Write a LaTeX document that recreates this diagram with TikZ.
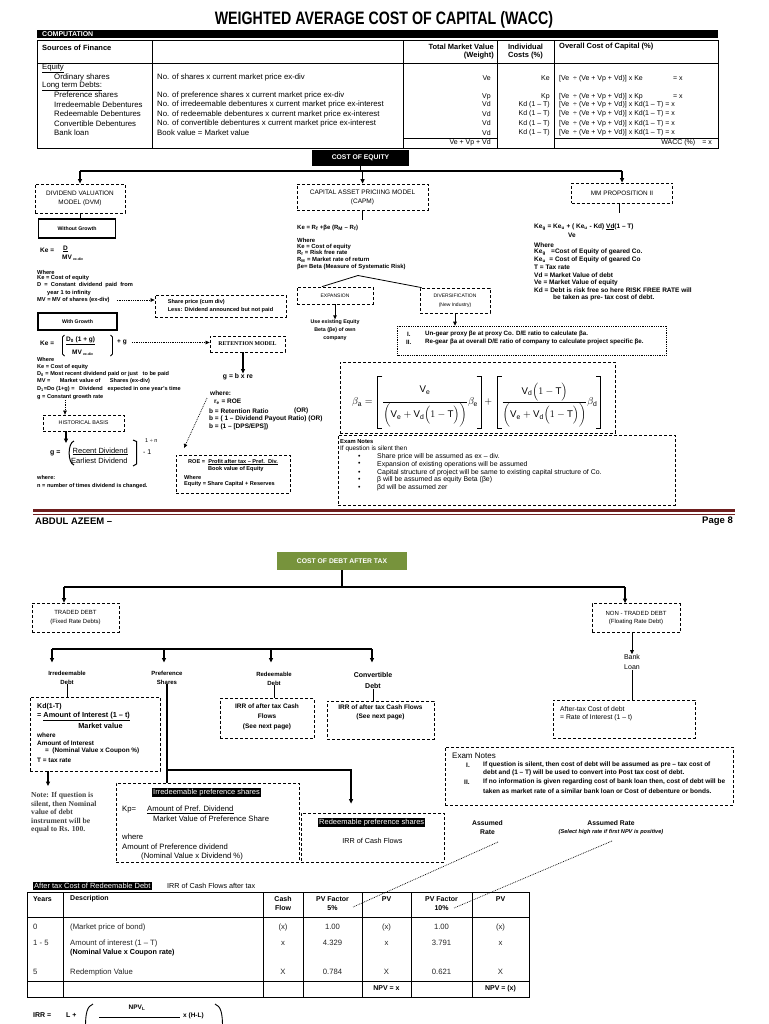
\documentclass[tikz,border=0pt]{standalone}
\usepackage{fontspec}
\setmainfont{Liberation Sans}
\newfontfamily\serifb{Liberation Serif}
\usepackage{amsmath}
\usetikzlibrary{arrows.meta}
\definecolor{dgreen}{HTML}{77933C}
\definecolor{dred}{HTML}{6E1E1E}
\newcommand{\fsz}[1]{\fontsize{#1}{#1}\selectfont}
\newcommand{\fsl}[2]{\fontsize{#1}{#2}\selectfont}
\tikzset{
  tx/.style={anchor=west,inner sep=0pt},
  tc/.style={inner sep=0pt},
  te/.style={anchor=east,inner sep=0pt},
  mth/.style={anchor=base west,inner sep=0pt,font=\fsz{9.7}},
  brk/.style={line width=0.8pt},
  dbox/.style={draw,dash pattern=on 3pt off 2pt,line width=0.75pt,inner sep=0pt},
  dotbox/.style={draw,dash pattern=on 0.8pt off 1pt,line width=0.7pt,inner sep=0pt},
  tbox/.style={draw,line width=1.6pt,inner sep=0pt},
  conn/.style={line width=1.3pt},
  cthin/.style={line width=0.8pt},
  arr/.style={line width=1.2pt,-{Triangle[length=4.5pt,width=4pt]}},
  arrs/.style={line width=0.9pt,-{Triangle[length=4pt,width=3.6pt]}},
  darr/.style={line width=0.7pt,dash pattern=on 0.8pt off 1pt,-{Triangle[length=4pt,width=3.5pt]}},
  dline/.style={line width=0.7pt,dash pattern=on 0.8pt off 1pt},
  hl/.style={anchor=west,fill=black,text=white,inner xsep=1pt,inner ysep=1pt},
}
\begin{document}
\begin{tikzpicture}[x=1pt,y=-1pt]
\useasboundingbox (0,0) rectangle (768,1024);
\fill[white] (0,0) rectangle (768,1024);

% ---------------- title and WACC table
\node[tc,font=\bfseries\fsz{18}] (title) at (384,20) {\scalebox{0.79}[1]{WEIGHTED AVERAGE COST OF CAPITAL (WACC)}};
\fill (37,30) rectangle (718,38.5);
\node[tx,text=white,font=\bfseries\fsz{7}] (comp) at (42,34.4) {COMPUTATION};
\draw[line width=0.7pt] (37,40.5) rectangle (718,148);
\draw[line width=0.7pt] (37,63) -- (718,63);
\foreach \x in {152,403,497,554} \draw[line width=0.7pt] (\x,40.5) -- (\x,148);
\draw[line width=0.7pt] (403,138) -- (497,138) (554,138) -- (718,138);

\begin{scope}[every node/.style={font=\bfseries\fsz{7.5}}]
\node[tx] (hsrc) at (42,48) {Sources of Finance};
\node[te] (htmv) at (494,47) {Total Market Value};
\node[te] (hwt) at (494,56) {(Weight)};
\node[tc] (hind) at (525.5,47) {Individual};
\node[tc] (hcst) at (525.5,56) {Costs (\%)};
\node[tx] (hocc) at (559,47) {Overall Cost of Capital (\%)};
\end{scope}

\begin{scope}[every node/.style={font=\fsz{7.8}}]
\node[tx] (r0) at (42,68.5) {\underline{Equity}};
\node[tx] (r1) at (54,77.3) {Ordinary shares};
\node[tx] (r2) at (42,86) {\underline{Long term Debts:}};
\node[tx] (r3) at (54,95) {Preference shares};
\node[tx] (r4) at (54,104.3) {Irredeemable Debentures};
\node[tx] (r5) at (54,114) {Redeemable Debentures};
\node[tx] (r6) at (54,123.3) {Convertible Debentures};
\node[tx] (r7) at (54,132.7) {Bank loan};
\node[tx] (d1) at (157,77.3) {No. of shares x current market price ex-div};
\node[tx] (d3) at (157,95) {No. of preference shares x current market price ex-div};
\node[tx] (d4) at (157,104.3) {No. of irredeemable debentures x current market price ex-interest};
\node[tx] (d5) at (157,114) {No. of redeemable debentures x current market price ex-interest};
\node[tx] (d6) at (157,123.3) {No. of convertible debentures x current market price ex-interest};
\node[tx] (d7) at (157,132.7) {Book value = Market value};
\end{scope}

\begin{scope}[every node/.style={font=\fsz{7}}]
\node[te] (v1) at (491,78.5) {Ve};
\node[te] (v3) at (491,96.5) {Vp};
\node[te] (v4) at (491,104.3) {Vd};
\node[te] (v5) at (491,114) {Vd};
\node[te] (v6) at (491,123.3) {Vd};
\node[te] (v7) at (491,132.7) {Vd};
\node[te] (k1) at (550,78.5) {Ke};
\node[te] (k3) at (550,96.5) {Kp};
\node[te] (k4) at (550,104.3) {Kd (1 – T)};
\node[te] (k5) at (550,114) {Kd (1 – T)};
\node[te] (k6) at (550,123.3) {Kd (1 – T)};
\node[te] (k7) at (550,132.7) {Kd (1 – T)};
\node[tx] (f1) at (559,78.5) {[Ve\ \ ÷ (Ve + Vp + Vd)] x Ke};
\node[tx] (f1x) at (673,78.5) {= x};
\node[tx] (f3) at (559,96.5) {[Ve\ \ ÷ (Ve + Vp + Vd)] x Kp};
\node[tx] (f3x) at (673,96.5) {= x};
\node[tx] (f4) at (559,104.3) {[Ve\ \ ÷ (Ve + Vp + Vd)] x Kd(1 – T) = x};
\node[tx] (f5) at (559,114) {[Ve\ \ ÷ (Ve + Vp + Vd)] x Kd(1 – T) = x};
\node[tx] (f6) at (559,123.3) {[Ve\ \ ÷ (Ve + Vp + Vd)] x Kd(1 – T) = x};
\node[tx] (f7) at (559,132.7) {[Ve\ \ ÷ (Ve + Vp + Vd)] x Kd(1 – T) = x};
\node[te] (vsum) at (491,143) {Ve + Vp + Vd};
\node[te] (wacc) at (712,143) {WACC (\%)\quad = x};
\end{scope}

% ---------------- cost of equity
\node[fill=black,text=white,font=\bfseries\fsz{6.8},minimum width=97pt,minimum height=16pt,inner sep=0pt] (coe) at (360.5,158) {COST OF EQUITY};
\node[dbox,minimum width=90pt,minimum height=29pt,align=center,font=\fsl{6.4}{9.5}] (dvm) at (80,198.5) {DIVIDEND VALUATION\\MODEL (DVM)};
\node[dbox,minimum width=131pt,minimum height=26pt,align=center,font=\fsl{6.5}{9}] (capm) at (362.5,197) {CAPITAL ASSET PRICIING MODEL\\(CAPM)};
\node[dbox,minimum width=101pt,minimum height=20pt,font=\fsz{6.4}] (mm) at (622,193) {MM PROPOSITION II};
\coordinate (j1) at (360.5,171);
\coordinate (jl) at (80,171);
\coordinate (jr) at (622,171);
\draw[conn] (coe.south) -- (j1);
\draw[conn] (jl) -- (jr);
\draw[arr] (jl) -- (dvm.north);
\draw[arr] (capm.north |- jl) -- (capm.north);
\draw[arr] (jr) -- (mm.north);

% DVM
\node[tbox,minimum width=77pt,minimum height=19pt,font=\bfseries\fsz{5.2}] (wog) at (77,228.5) {Without Growth};
\draw[cthin] (dvm.south) -- (dvm.south |- wog.north);
\node[tx,font=\bfseries\fsz{6.5}] (ke1) at (40,250) {Ke =};
\node[tx,font=\bfseries\fsz{6.5}] (ke1n) at (63,249) {\underline{D}};
\node[tx,font=\bfseries\fsz{6.5}] (ke1d) at (62,258) {MV\,\raisebox{-1pt}{\fsz{3.5}ex-div}};
\begin{scope}[every node/.style={font=\bfseries\fsz{5.7}}]
\node[tx] (w1a) at (37,272) {Where};
\node[tx] (w1b) at (37,278) {Ke = Cost of equity};
\node[tx] (w1c) at (37,285.3) {D \ = \ Constant \ dividend \ paid \ from};
\node[tx] (w1d) at (47,292.7) {year 1 to infinity};
\node[tx] (mvsh) at (37,300) {MV = MV of shares (ex-div)};
\end{scope}
\node[dbox,minimum width=131pt,minimum height=22pt,align=left,font=\bfseries\fsl{5.6}{7.6}] (shp) at (220.5,306) {Share price (cum div)\\Less: Dividend announced but not paid};
\draw[darr] ([xshift=7pt]mvsh.east) -- (shp.west |- mvsh.east);

\node[tbox,minimum width=79pt,minimum height=17pt,font=\bfseries\fsz{5.2}] (wg) at (77.5,321.5) {With Growth};
\node[tx,font=\bfseries\fsz{6.5}] (ke2) at (40,343) {Ke =};
\node[tx,font=\bfseries\fsz{6.5}] (ke2n) at (66,341) {\underline{D\textsubscript{0} (1 + g)}};
\node[tx,font=\bfseries\fsz{6.5}] (ke2d) at (72,353) {MV\,\raisebox{-1pt}{\fsz{3.5}ex-div}};
\draw[cthin] (64.5,335) -- (62.5,337) -- (62.5,354) -- (64.5,356);
\draw[cthin] (110.5,335) -- (112.5,337) -- (112.5,354) -- (110.5,356);
\node[tx,font=\bfseries\fsz{6.5}] (pg) at (117,342.5) {+ g};
\node[dbox,minimum width=75pt,minimum height=16pt,font=\serifb\bfseries\fsz{5.8}] (ret) at (247.5,344) {RETENTION MODEL};
\draw[darr] ([xshift=5pt]pg.east) -- (ret.west |- pg.east);

\begin{scope}[every node/.style={font=\bfseries\fsz{5.6}}]
\node[tx] (w2a) at (37,359) {Where};
\node[tx] (w2b) at (37,366.7) {Ke = Cost of equity};
\node[tx] (w2c) at (37,374) {D\textsubscript{0} = Most recent dividend paid or just\ \ \ to be paid};
\node[tx] (w2d) at (37,381.3) {MV = \ \ \ \ \ Market value of \ \ \ \ \ Shares (ex-div)};
\node[tx] (w2e) at (37,389) {D\textsubscript{1}=Do (1+g) = \ \ Dividend \ \ expected in one year's time};
\node[tx] (w2f) at (37,396.7) {g = Constant growth rate};
\end{scope}
\coordinate (hs) at (65,400);
\node[dbox,minimum width=81pt,minimum height=16pt,font=\fsz{5.4}] (hist) at (83.5,423) {HISTORICAL BASIS};
\draw[darr] (hs) -- (hs |- hist.north);
\coordinate (gs) at (66,443);
\draw[arr] (hist.south -| gs) -- (gs);
\node[tx,font=\bfseries\fsz{7}] (geq) at (50,453) {g =};
\draw[line width=1pt] (74,441) .. controls (67.5,443) and (67.5,463) .. (74,465);
\node[tx,font=\fsz{7.5}] (grec) at (72.5,451.5) {\underline{Recent Dividend}};
\node[tx,font=\fsz{7.5}] (gear1) at (71,461) {Earliest Dividend};
\draw[line width=1pt] (133,440) -- (136.5,441.5) -- (136.5,464) -- (133,466);
\node[tx,font=\fsz{5.5}] (gexp) at (145,441) {1 ÷ n};
\node[tx,font=\fsz{7}] (gm1) at (143,452) {- 1};
\node[tx,font=\bfseries\fsz{5.6}] (nw) at (37,477) {where:};
\node[tx,font=\bfseries\fsz{5.6}] (nn) at (37,486) {n = number of times dividend is changed.};

\node[tc,font=\bfseries\fsz{6.8}] (gbx) at (238,377) {g = b x re};
\draw[arr] ([xshift=-4.5pt]ret.south) -- ([xshift=-4.5pt]ret.south |- gbx.north);
\begin{scope}[every node/.style={font=\bfseries\fsz{6.5}}]
\node[tx] (w3a) at (210,393) {where:};
\node[tx] (w3b) at (214,402) {r\textsubscript{e} = ROE};
\node[tx] (w3c) at (209,410.7) {b = Retention Ratio};
\node[tx] (w3o) at (294,410.7) {(OR)};
\node[tx] (w3d) at (209,419) {b = ( 1 – Dividend Payout Ratio)\ (OR)};
\node[tx] (w3e) at (209,427.3) {b = (1 – [DPS/EPS])};
\end{scope}
\coordinate (rs) at (207,398);
\coordinate (re) at (184,448);
\draw[darr] (rs) -- (re);
\node[dbox,minimum width=114pt,minimum height=38pt] (roe) at (233,474) {};
\begin{scope}[every node/.style={font=\bfseries\fsz{5.6}}]
\node[tx] (roe1) at (188,462) {ROE = \ \underline{Profit after tax – Pref.\ \ Div.}};
\node[tx] (roe2) at (208,469.5) {Book value of Equity};
\node[tx] (roe3) at (184,477) {Where};
\node[tx] (roe4) at (184,484.5) {Equity = Share Capital + Reserves};
\end{scope}

% CAPM
\coordinate (cs) at (362.5,220);
\draw[cthin] (capm.south) -- (cs);
\node[tx,font=\bfseries\fsz{6}] (kcapm) at (297,228) {Ke = R\textsubscript{f} +βe (R\textsubscript{M} – R\textsubscript{f})};
\begin{scope}[every node/.style={font=\bfseries\fsz{5.9}}]
\node[tx] (c1) at (297,240) {Where};
\node[tx] (c2) at (297,246.7) {Ke = Cost of equity};
\node[tx] (c3) at (297,253.3) {R\textsubscript{f} = Risk free rate};
\node[tx] (c4) at (297,260) {R\textsubscript{M} = Market rate of return};
\node[tx] (c5) at (297,266.7) {βe= Beta (Measure of Systematic Risk)};
\end{scope}
\coordinate (ap) at (358,275.5);
\node[dbox,minimum width=76pt,minimum height=17pt,font=\fsz{5}] (exp) at (335,295.5) {EXPANSION};
\node[dbox,minimum width=70pt,minimum height=25pt,align=center,font=\fsl{5}{9}] (div) at (455,300.5) {DIVERSIFICATION\\(New Industry)};
\draw[cthin] (ap) -- ([xshift=-13pt]exp.north);
\draw[cthin] (ap) -- ([xshift=2pt]div.north west);
\node[tc,align=center,font=\bfseries\fsl{5.3}{8}] (use) at (335,330) {Use existing Equity\\Beta (βe) of own\\company};
\draw[arrs] (exp.south) -- (use.north);
\node[dotbox,minimum width=269pt,minimum height=29pt] (gear) at (532,340.5) {};
\draw[arrs] (div.south) -- (div.south |- gear.north);
\begin{scope}[every node/.style={font=\bfseries\fsz{6.2}}]
\node[tx] (g1n) at (407,334.4) {I.};
\node[tx] (g1) at (425,334.4) {Un-gear proxy βe at proxy Co. D/E ratio to calculate βa.};
\node[tx] (g2n) at (406,342.4) {II.};
\node[tx] (g2) at (425,342.4) {Re-gear βa at overall D/E ratio of company to calculate project specific βe.};
\end{scope}

% beta formula
\node[dbox,minimum width=275pt,minimum height=71pt] (bbox) at (477.5,397.5) {};
\coordinate (yt) at (0,376);
\coordinate (yb) at (0,428);
\node[mth] (ba) at (352,404.5) {$\beta_{\mathrm{a}}=$};
\node[mth] (fr1) at ([xshift=9pt]ba.base east) {$\displaystyle\frac{\mathrm{V_e}\rule[-8pt]{0pt}{0pt}}{\biggl(\mathrm{V_e}+\mathrm{V_d}\Bigl(1-\mathrm{T}\Bigr)\biggr)}\beta_{\mathrm{e}}$};
\coordinate (lb1) at ([xshift=-4pt]fr1.west);
\coordinate (rb1) at ([xshift=3pt]fr1.east);
\draw[brk] (lb1 |- yt) ++(4.5,0) -- ++(-4.5,0) -- (lb1 |- yb) -- ++(4.5,0);
\draw[brk] (rb1 |- yt) ++(-4.5,0) -- ++(4.5,0) -- (rb1 |- yb) -- ++(-4.5,0);
\node[mth] (pl) at ([xshift=6pt]fr1.base east) {$+$};
\node[mth] (fr2) at ([xshift=9pt]pl.base east) {$\displaystyle\frac{\mathrm{V_d}\Bigl(1-\mathrm{T}\Bigr)\rule[-4pt]{0pt}{0pt}}{\biggl(\mathrm{V_e}+\mathrm{V_d}\Bigl(1-\mathrm{T}\Bigr)\biggr)}\beta_{\mathrm{d}}$};
\coordinate (lb2) at ([xshift=-4pt]fr2.west);
\coordinate (rb2) at ([xshift=3pt]fr2.east);
\draw[brk] (lb2 |- yt) ++(4.5,0) -- ++(-4.5,0) -- (lb2 |- yb) -- ++(4.5,0);
\draw[brk] (rb2 |- yt) ++(-4.5,0) -- ++(4.5,0) -- (rb2 |- yb) -- ++(-4.5,0);

\node[dbox,minimum width=337pt,minimum height=70pt] (ex1) at (506.5,470) {};
\node[tx,font=\bfseries\fsz{5.8}] (ex1h) at (340,441.8) {Exam Notes};
\begin{scope}[every node/.style={font=\fsz{6.9}}]
\node[tx,font=\fsz{6.4}] (ex1a) at (340,449.3) {If question is silent then};
\node[tx] (b1) at (358,456.5) {•};
\node[tx] (e1) at (377,456.5) {Share price will be assumed as ex – div.};
\node[tx] (b2) at (358,464.3) {•};
\node[tx] (e2) at (377,464.3) {Expansion of existing operations will be assumed};
\node[tx] (b3) at (358,472.5) {•};
\node[tx] (e3) at (377,472.5) {Capital structure of project will be same to existing capital structure of Co.};
\node[tx] (b4) at (358,480.2) {•};
\node[tx] (e4) at (377,480.2) {β will be assumed as equity Beta (βe)};
\node[tx] (b5) at (358,487.8) {•};
\node[tx] (e5) at (377,487.8) {βd will be assumed zer};
\end{scope}

% MM
\coordinate (ms) at (619,213);
\draw[cthin] (mm.south -| ms) -- (ms);
\begin{scope}[every node/.style={font=\bfseries\fsz{6.5}}]
\node[tx] (m0) at (534,227) {Ke\textsubscript{g} = Ke\textsubscript{u} + ( Ke\textsubscript{u} - Kd) \underline{Vd}(1 – T)};
\node[tx] (m0d) at (568,235) {Ve};
\node[tx] (m1) at (534,245) {Where};
\node[tx] (m2) at (534,252.5) {Ke\textsubscript{g}\ \ \ =Cost of Equity of geared Co.};
\node[tx] (m3) at (534,260) {Ke\textsubscript{u}\ \ = Cost of Equity of geared Co};
\node[tx] (m4) at (534,267.7) {T = Tax rate};
\node[tx] (m5) at (534,275.3) {Vd = Market Value of debt};
\node[tx] (m6) at (534,282.7) {Ve = Market Value of equity};
\node[tx] (m7) at (534,290.3) {Kd = Debt is risk free so here RISK FREE RATE will};
\node[tx] (m8) at (553,297.7) {be taken as pre- tax cost of debt.};
\end{scope}

% footer
\draw[dred,line width=2.2pt] (33,510.5) -- (735,510.5);
\draw[dred,line width=0.6pt] (33,513.8) -- (735,513.8);
\node[tx,font=\bfseries\fsz{9.5}] (auth) at (35,521.5) {ABDUL AZEEM –};
\node[te,font=\bfseries\fsz{9.5}] (page) at (733,521.5) {Page 8};

% ---------------- cost of debt
\node[fill=dgreen,text=white,font=\bfseries\fsz{6.8},minimum width=130pt,minimum height=18pt,inner sep=0pt] (cod) at (342,561) {COST OF DEBT AFTER TAX};
\coordinate (dj) at (342,587);
\coordinate (dl) at (64,587);
\coordinate (dr) at (625,587);
\draw[conn] (cod.south) -- (dj);
\draw[conn] (dl) -- (dr);
\node[dbox,minimum width=87pt,minimum height=29pt,align=center,font=\fsl{6}{8.5}] (trd) at (75.5,617.5) {TRADED DEBT\\(Fixed Rate Debts)};
\node[dbox,minimum width=88pt,minimum height=29pt,align=center,font=\fsl{6}{8.5}] (ntrd) at (636,618) {NON - TRADED DEBT\\(Floating Rate Debt)};
\draw[arr] (dl) -- (dl |- trd.north);
\draw[arr] (dr) -- (dr |- ntrd.north);
\node[tc,align=center,font=\fsl{7}{10}] (bank) at (632,662) {Bank\\Loan};
\draw[arrs] (ntrd.south -| bank.north) -- (bank.north);
\node[dbox,minimum width=142pt,minimum height=38pt] (atx) at (624,719) {};
\draw[cthin] (bank.south) -- (bank.south |- atx.north);
\node[tx,font=\fsz{6.8}] (atx1) at (560,709) {After-tax Cost of debt};
\node[tx,font=\fsz{6.8}] (atx2) at (560,718) {= Rate of Interest (1 – t)};

\node[dbox,minimum width=288pt,minimum height=58pt] (ex2) at (589,776) {};
\node[tx,font=\fsz{8}] (ex2h) at (452,756) {Exam Notes};
\begin{scope}[every node/.style={font=\bfseries\fsz{6.5}}]
\node[tx] (x1n) at (466,765) {I.};
\node[tx] (x1a) at (483,765) {If question is silent, then cost of debt will be assumed as pre – tax cost of};
\node[tx] (x1b) at (483,773.3) {debt and (1 – T) will be used to convert into Post tax cost of debt.};
\node[tx] (x2n) at (464,782) {II.};
\node[tx] (x2a) at (483,782) {If no information is given regarding cost of bank loan then, cost of debt will be};
\node[tx] (x2b) at (483,790.7) {taken as market rate of a similar bank loan or Cost of debenture or bonds.};
\end{scope}

\coordinate (bl) at (52,649);
\coordinate (b2) at (164,649);
\coordinate (b3) at (271,649);
\coordinate (br) at (372,649);
\draw[conn] (bl) -- (br);
\draw[arr] (bl) -- ++(0,13.5);
\draw[arr] (b2) -- ++(0,13.5);
\draw[arr] (b3) -- ++(0,13.5);
\draw[arr] (br) -- ++(0,13.5);
\node[tc,align=center,font=\bfseries\fsl{6}{9}] (irl) at (67,677.5) {Irredeemable\\Debt};
\node[tc,align=center,font=\bfseries\fsl{6}{9}] (prl) at (167,677.5) {Preference\\Shares};
\node[tc,align=center,font=\bfseries\fsl{6}{9}] (rdl) at (274,678.5) {Redeemable\\Debt};
\node[tc,align=center,font=\bfseries\fsl{7}{10.5}] (cvl) at (373,680.5) {Convertible\\Debt};

\node[dbox,minimum width=130pt,minimum height=74pt] (irb) at (95,734) {};
\draw[cthin] (irl.south) -- (irl.south |- irb.north);
\node[tx,font=\bfseries\fsz{7}] (i1) at (37,706.7) {Kd(1-T)};
\node[tx,font=\bfseries\fsz{7.3}] (i2) at (37,716) {= \underline{Amount of Interest (1 – t)}};
\node[tc,font=\bfseries\fsz{7.3}] (i3) at (100.5,726) {Market value};
\begin{scope}[every node/.style={font=\bfseries\fsz{6.4}}]
\node[tx] (i4) at (37,735) {where};
\node[tx] (i5) at (37,743.3) {Amount of Interest};
\node[tx] (i6) at (45,751) {= \ (Nominal Value x Coupon \%)};
\node[tx] (i7) at (37,760) {T = tax rate};
\end{scope}
\node[anchor=north west,inner sep=0pt,align=left,font=\serifb\bfseries\fsl{7.6}{8.6},text=black!75] (note) at (31,792) {Note: If question is\\silent, then Nominal\\value of debt\\instrument will be\\equal to Rs. 100.};
\draw[arr,shorten >=6pt] ([xshift=-47pt]irb.south) -- ([xshift=-47pt]irb.south |- note.north);

\node[dbox,minimum width=94pt,minimum height=40pt] (rdb) at (267,718.5) {};
\node[tc,align=center,font=\bfseries\fsl{6.5}{9.8}] (rdt) at (267,717) {IRR of after tax Cash\\Flows\\(See next page)};
\draw[cthin] (rdl.south) -- (rdl.south |- rdb.north);
\node[dbox,minimum width=107pt,minimum height=38pt] (cvb) at (380.5,720) {};
\node[tc,align=center,font=\bfseries\fsl{6.5}{9.3}] (cvt) at (380.5,712.5) {IRR of after tax Cash Flows\\(See next page)};
\draw[cthin] (cvl.south) -- (cvl.south |- cvb.north);

\node[dbox,minimum width=183pt,minimum height=79pt] (ipb) at (207.5,822.5) {};
\node[dbox,minimum width=143pt,minimum height=49pt] (rpb) at (372.5,837.5) {};
\draw[conn] (prl.south) -- (prl.south |- ipb.north);
\coordinate (pj) at (167,770);
\draw[arr,shorten >=9pt] (pj) -| ([xshift=-21.5pt]rpb.north);
\node[hl,font=\fsz{7.5}] (ipl) at (152,792.5) {Irredeemable preference shares};
\begin{scope}[every node/.style={font=\fsz{7.7}}]
\node[tx] (p1) at (122,810) {Kp=};
\node[tx] (p2) at (147,810) {\underline{Amount of Pref. Dividend}};
\node[tx] (p3) at (153,819) {Market Value of Preference Share};
\node[tx] (p4) at (122,837) {where};
\node[tx] (p5) at (122,846.5) {Amount of Preference dividend};
\node[tx] (p6) at (141,856) {(Nominal Value x Dividend \%)};
\end{scope}
\node[hl,font=\fsz{7.5}] (rpl) at (318,822.5) {Redeemable preference shares};
\node[tc,font=\fsz{7.2}] (rpt) at (372.5,841) {IRR of Cash Flows};

\node[tc,align=center,font=\bfseries\fsl{6.8}{9}] (ar1) at (487.5,827.5) {Assumed\\Rate};
\node[tc,font=\bfseries\fsz{6.8}] (ar2) at (611,823) {Assumed Rate};
\node[tc,font=\bfseries\itshape\fsz{5.6}] (ar2s) at (611,832) {(Select high rate if first NPV is positive)};
\coordinate (d1s) at (498,842);
\coordinate (d1e) at (353,907);
\coordinate (d2s) at (612,841);
\coordinate (d2e) at (454,908);
\draw[dline] (d1s) -- (d1e);
\draw[dline] (d2s) -- (d2e);

% bottom table
\node[hl,font=\fsz{7.5}] (atl) at (33,886) {After tax Cost of Redeemable Debt};
\node[tx,font=\fsz{7.2}] (atl2) at (167,886) {IRR of Cash Flows after tax};
\draw[line width=0.9pt] (27,892) rectangle (529,997);
\draw[line width=1.6pt] (27,917.5) -- (529,917.5);
\draw[line width=0.9pt] (27,981) -- (529,981);
\foreach \x in {63,263,303,362,411,472} \draw[line width=0.9pt] (\x,892) -- (\x,997);
\begin{scope}[every node/.style={font=\bfseries\fsl{7}{9}}]
\node[tx] (ty) at (33,899) {Years};
\node[tx] (td) at (70,899) {Description};
\node[tc,align=center] (tcf) at (283,903.5) {Cash\\Flow};
\node[tc,align=center] (h5) at (332.5,903.5) {PV Factor\\5\%};
\node[tc] (tpv1) at (386.5,899) {PV};
\node[tc,align=center] (h10) at (441.5,903.5) {PV Factor\\10\%};
\node[tc] (tpv2) at (500.5,899) {PV};
\node[tc] (npv1) at (386.5,988.5) {NPV = x};
\node[tc] (npv2) at (500.5,988.5) {NPV = (x)};
\node[tx,font=\bfseries\fsz{7.2}] (t2b) at (70,953) {(Nominal Value x Coupon rate)};
\end{scope}
\begin{scope}[every node/.style={font=\fsz{7.7},text=black!85}]
\node[tx] (t0a) at (33,927) {0};
\node[tx] (t0b) at (70,927) {(Market price of bond)};
\node[tc] (t0c) at (283,927) {(x)};
\node[tc] (t0d) at (332.5,927) {1.00};
\node[tc] (t0e) at (386.5,927) {(x)};
\node[tc] (t0f) at (441.5,927) {1.00};
\node[tc] (t0g) at (500.5,927) {(x)};
\node[tx] (t1a) at (33,943) {1 - 5};
\node[tx] (t1b) at (70,943) {Amount of interest (1 – T)};
\node[tc] (t1c) at (283,943) {x};
\node[tc] (t1d) at (332.5,943) {4.329};
\node[tc] (t1e) at (386.5,943) {x};
\node[tc] (t1f) at (441.5,943) {3.791};
\node[tc] (t1g) at (500.5,943) {x};
\node[tx] (t3a) at (33,972) {5};
\node[tx] (t3b) at (70,972) {Redemption Value};
\node[tc] (t3c) at (283,972) {X};
\node[tc] (t3d) at (332.5,972) {0.784};
\node[tc] (t3e) at (386.5,972) {X};
\node[tc] (t3f) at (441.5,972) {0.621};
\node[tc] (t3g) at (500.5,972) {X};
\end{scope}

% IRR formula
\node[tx,font=\bfseries\fsz{7}] (irr) at (33,1015) {IRR =};
\node[tx,font=\bfseries\fsz{7}] (irrl) at (66,1015) {L +};
\draw[line width=0.9pt] (93,1004) .. controls (87,1006) and (85.5,1014) .. (85.5,1026);
\draw[line width=0.9pt] (215,1004) .. controls (221,1006) and (222.5,1014) .. (222.5,1026);
\node[tc,font=\bfseries\fsz{6.5}] (npvl) at (137,1007.5) {NPV\textsubscript{L}};
\draw[line width=0.7pt] (99,1017) -- (180,1017);
\node[tx,font=\bfseries\fsz{6.5}] (hl1) at (183,1016) {x (H-L)};
\end{tikzpicture}
\end{document}
